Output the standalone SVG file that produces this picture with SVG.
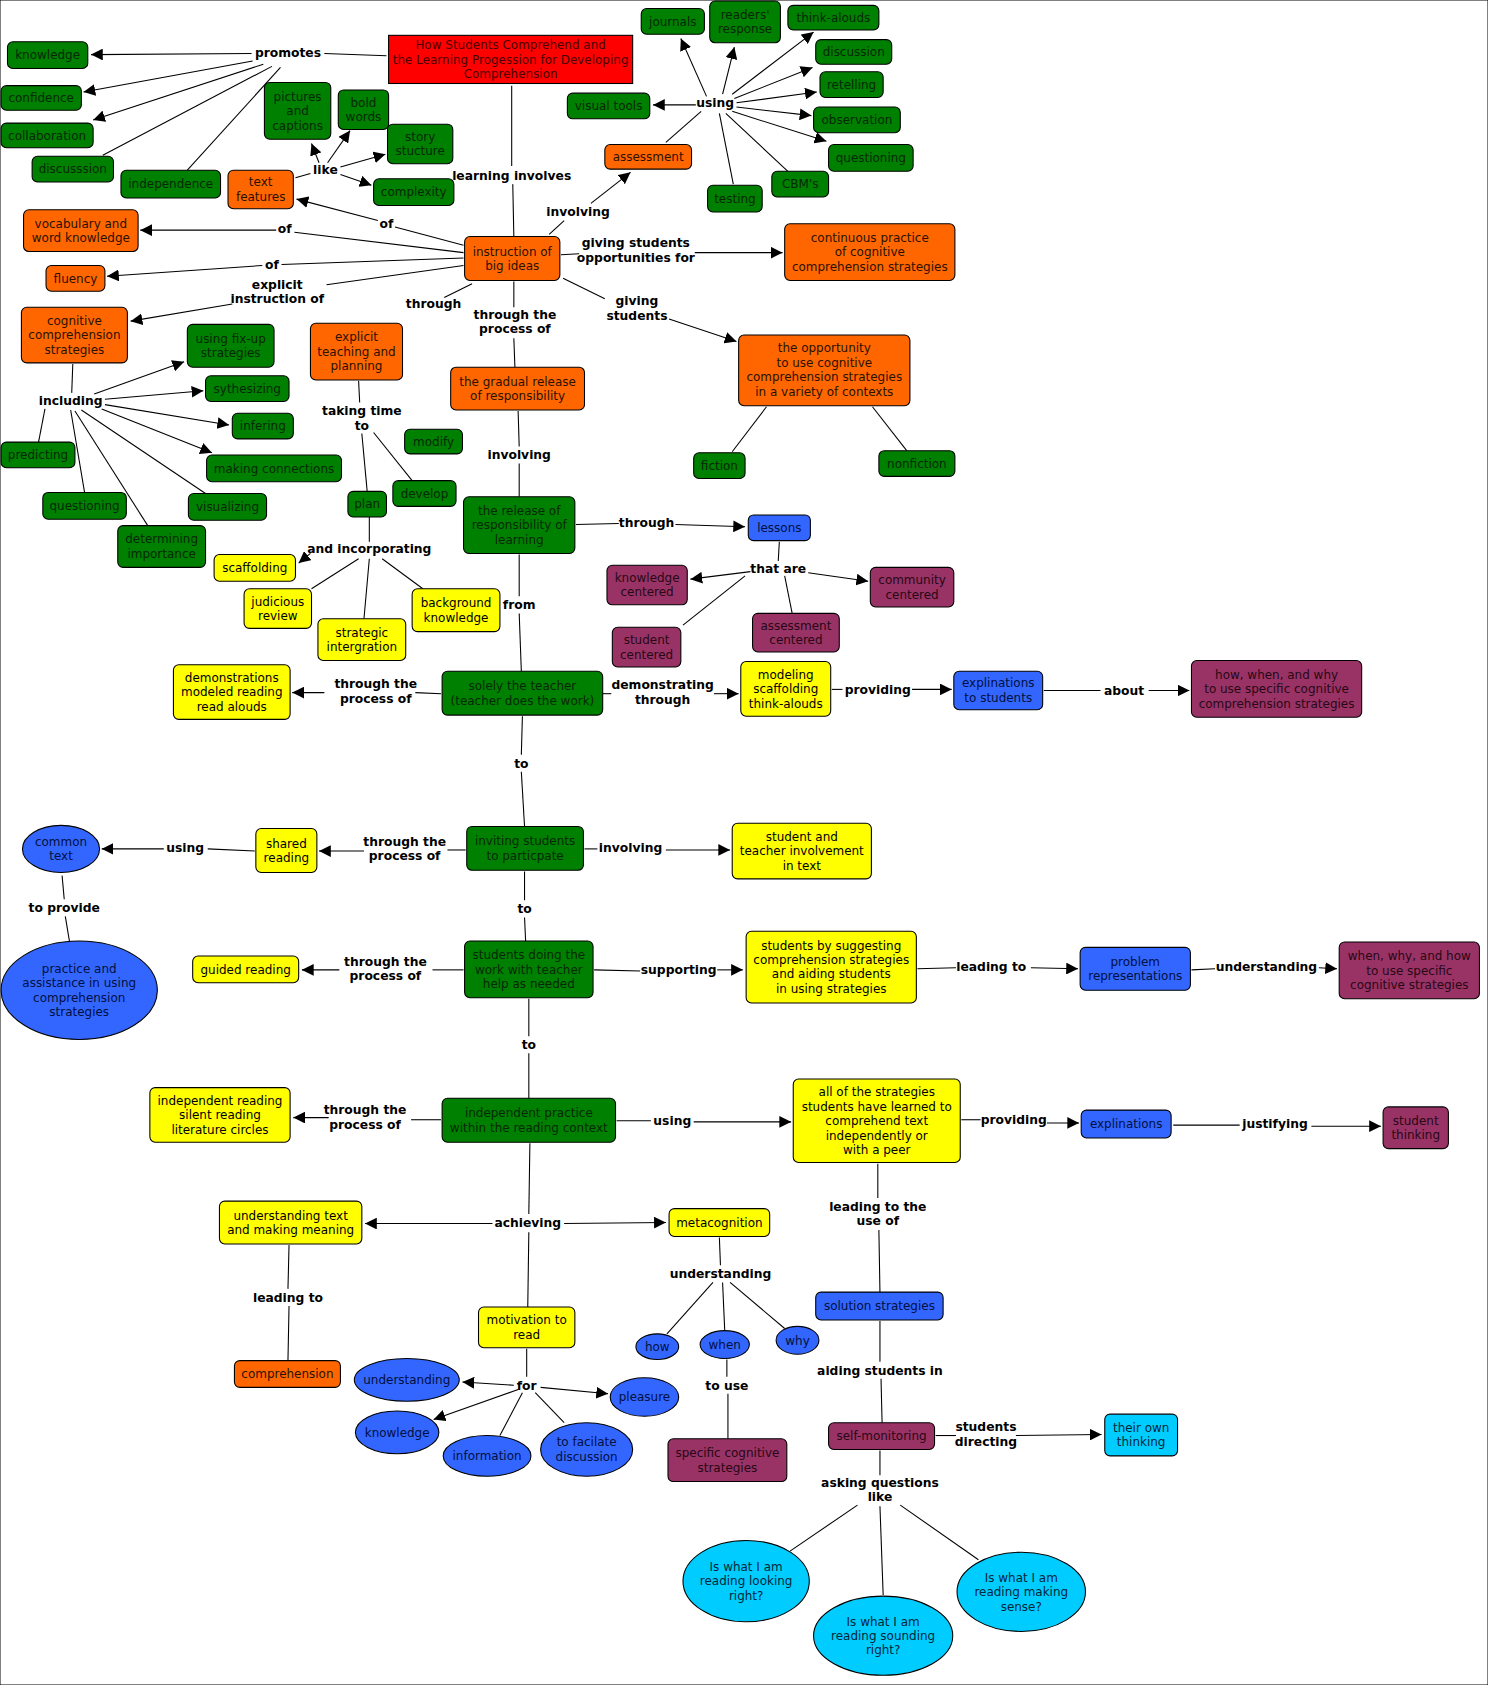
<svg xmlns="http://www.w3.org/2000/svg" width="1488" height="1685" viewBox="0 0 1488 1685">
<style>
text{font-family:"DejaVu Sans",Verdana,sans-serif;font-size:11.2px;text-anchor:middle}
.l{font-weight:bold;fill:#000;font-size:11.5px}
rect,ellipse{stroke:#000;stroke-width:1}
.g{fill:#008000}.o{fill:#ff6600}.y{fill:#ffff00}.b{fill:#3366ff}.p{fill:#993366}.c{fill:#00ccff}.r{fill:#ff0000}
.tg{fill:#062806}.to{fill:#2a1200}.ty{fill:#000}.tb{fill:#001040}.tp{fill:#280814}.tc{fill:#00263a}.tr{fill:#4a0000}
#conn line{stroke:#000;stroke-width:1}
#conn .a{marker-end:url(#ar)}
</style>
<defs><marker id="ar" viewBox="0 0 10 10" refX="10" refY="5" markerWidth="11" markerHeight="11" markerUnits="userSpaceOnUse" orient="auto"><path d="M0,0L10,5L0,10z" fill="#000"/></marker></defs>
<rect width="1488" height="1685" fill="#fff" stroke="none"/>
<g transform="scale(1.0705)">
<g id="conn">
<line x1="361" y1="52" x2="303" y2="50"/>
<line x1="235" y1="50" x2="85" y2="51" class="a"/>
<line x1="236" y1="57" x2="78" y2="86" class="a"/>
<line x1="246" y1="60" x2="87" y2="112" class="a"/>
<line x1="254" y1="62" x2="96" y2="145"/>
<line x1="262" y1="63" x2="175" y2="159"/>
<line x1="478" y1="80" x2="478" y2="155"/>
<line x1="479" y1="172" x2="480" y2="221"/>
<line x1="513" y1="219" x2="527" y2="206"/>
<line x1="552" y1="190" x2="589" y2="161" class="a"/>
<line x1="622" y1="133" x2="655" y2="104"/>
<line x1="660" y1="90" x2="636" y2="36" class="a"/>
<line x1="675" y1="88" x2="686" y2="44" class="a"/>
<line x1="684" y1="88" x2="760" y2="30" class="a"/>
<line x1="686" y1="92" x2="759" y2="63" class="a"/>
<line x1="688" y1="96" x2="763" y2="86" class="a"/>
<line x1="688" y1="100" x2="758" y2="108" class="a"/>
<line x1="684" y1="104" x2="772" y2="132" class="a"/>
<line x1="678" y1="106" x2="736" y2="160"/>
<line x1="672" y1="106" x2="685" y2="172"/>
<line x1="650" y1="98" x2="610" y2="98" class="a"/>
<line x1="433" y1="229" x2="369" y2="212"/>
<line x1="353" y1="206" x2="277" y2="186" class="a"/>
<line x1="276" y1="166" x2="290" y2="162"/>
<line x1="298" y1="152" x2="291" y2="134" class="a"/>
<line x1="306" y1="152" x2="327" y2="122" class="a"/>
<line x1="318" y1="156" x2="360" y2="144" class="a"/>
<line x1="318" y1="163" x2="347" y2="173" class="a"/>
<line x1="433" y1="236" x2="275" y2="217"/>
<line x1="258" y1="215" x2="131" y2="215" class="a"/>
<line x1="433" y1="241" x2="263" y2="247"/>
<line x1="245" y1="248" x2="100" y2="258" class="a"/>
<line x1="433" y1="248" x2="305" y2="266"/>
<line x1="217" y1="284" x2="122" y2="300" class="a"/>
<line x1="441" y1="265" x2="415" y2="278"/>
<line x1="480" y1="263" x2="480" y2="287"/>
<line x1="480" y1="316" x2="481" y2="343"/>
<line x1="524" y1="238" x2="541" y2="237"/>
<line x1="649" y1="236" x2="731" y2="236" class="a"/>
<line x1="526" y1="260" x2="565" y2="279"/>
<line x1="625" y1="298" x2="688" y2="319" class="a"/>
<line x1="716" y1="380" x2="684" y2="422"/>
<line x1="815" y1="380" x2="847" y2="421"/>
<line x1="68" y1="340" x2="67" y2="367"/>
<line x1="88" y1="368" x2="172" y2="338" class="a"/>
<line x1="98" y1="373" x2="190" y2="365" class="a"/>
<line x1="98" y1="378" x2="214" y2="397" class="a"/>
<line x1="95" y1="382" x2="198" y2="423" class="a"/>
<line x1="42" y1="382" x2="36" y2="413"/>
<line x1="66" y1="383" x2="79" y2="460"/>
<line x1="76" y1="383" x2="192" y2="461"/>
<line x1="70" y1="384" x2="138" y2="491"/>
<line x1="335" y1="356" x2="336" y2="376"/>
<line x1="349" y1="404" x2="385" y2="449"/>
<line x1="338" y1="405" x2="343" y2="459"/>
<line x1="345" y1="483" x2="345" y2="506"/>
<line x1="290" y1="517" x2="279" y2="526" class="a"/>
<line x1="335" y1="522" x2="291" y2="550"/>
<line x1="345" y1="522" x2="340" y2="578"/>
<line x1="357" y1="522" x2="395" y2="550"/>
<line x1="484" y1="384" x2="485" y2="417"/>
<line x1="485" y1="433" x2="485" y2="464"/>
<line x1="538" y1="490" x2="578" y2="489"/>
<line x1="631" y1="490" x2="696" y2="492" class="a"/>
<line x1="728" y1="506" x2="727" y2="524"/>
<line x1="701" y1="534" x2="645" y2="541" class="a"/>
<line x1="755" y1="535" x2="811" y2="543" class="a"/>
<line x1="696" y1="538" x2="638" y2="584"/>
<line x1="733" y1="538" x2="740" y2="573"/>
<line x1="485" y1="518" x2="485" y2="557"/>
<line x1="485" y1="573" x2="487" y2="627"/>
<line x1="412" y1="648" x2="388" y2="647"/>
<line x1="303" y1="647" x2="273" y2="647" class="a"/>
<line x1="563" y1="648" x2="571" y2="648"/>
<line x1="667" y1="648" x2="690" y2="648" class="a"/>
<line x1="777" y1="644" x2="787" y2="644"/>
<line x1="852" y1="644" x2="889" y2="644" class="a"/>
<line x1="975" y1="645" x2="1028" y2="645"/>
<line x1="1073" y1="645" x2="1111" y2="645" class="a"/>
<line x1="488" y1="669" x2="487" y2="705"/>
<line x1="487" y1="721" x2="490" y2="772"/>
<line x1="435" y1="794" x2="418" y2="794"/>
<line x1="340" y1="795" x2="298" y2="795" class="a"/>
<line x1="238" y1="795" x2="194" y2="793"/>
<line x1="153" y1="793" x2="95" y2="793" class="a"/>
<line x1="58" y1="818" x2="60" y2="840"/>
<line x1="61" y1="856" x2="65" y2="880"/>
<line x1="546" y1="793" x2="558" y2="793"/>
<line x1="622" y1="794" x2="682" y2="794" class="a"/>
<line x1="490" y1="814" x2="490" y2="841"/>
<line x1="490" y1="857" x2="491" y2="879"/>
<line x1="433" y1="906" x2="404" y2="906"/>
<line x1="317" y1="906" x2="282" y2="906" class="a"/>
<line x1="555" y1="906" x2="598" y2="907"/>
<line x1="670" y1="906" x2="694" y2="906" class="a"/>
<line x1="857" y1="905" x2="893" y2="904"/>
<line x1="963" y1="904" x2="1007" y2="905" class="a"/>
<line x1="1113" y1="906" x2="1135" y2="905"/>
<line x1="1232" y1="904" x2="1249" y2="905" class="a"/>
<line x1="494" y1="933" x2="494" y2="968"/>
<line x1="494" y1="984" x2="494" y2="1026"/>
<line x1="412" y1="1046" x2="384" y2="1046"/>
<line x1="307" y1="1044" x2="274" y2="1044" class="a"/>
<line x1="576" y1="1047" x2="608" y2="1047"/>
<line x1="648" y1="1048" x2="739" y2="1048" class="a"/>
<line x1="898" y1="1046" x2="916" y2="1046"/>
<line x1="978" y1="1049" x2="1008" y2="1049" class="a"/>
<line x1="1096" y1="1051" x2="1158" y2="1051"/>
<line x1="1225" y1="1052" x2="1290" y2="1052" class="a"/>
<line x1="495" y1="1068" x2="494" y2="1134"/>
<line x1="460" y1="1143" x2="341" y2="1143" class="a"/>
<line x1="527" y1="1143" x2="622" y2="1142" class="a"/>
<line x1="494" y1="1151" x2="493" y2="1221"/>
<line x1="820" y1="1087" x2="820" y2="1119"/>
<line x1="821" y1="1149" x2="822" y2="1207"/>
<line x1="270" y1="1163" x2="269" y2="1204"/>
<line x1="270" y1="1220" x2="269" y2="1271"/>
<line x1="672" y1="1156" x2="673" y2="1182"/>
<line x1="666" y1="1198" x2="623" y2="1246"/>
<line x1="675" y1="1198" x2="677" y2="1243"/>
<line x1="682" y1="1198" x2="733" y2="1241"/>
<line x1="679" y1="1270" x2="679" y2="1286"/>
<line x1="680" y1="1302" x2="680" y2="1344"/>
<line x1="492" y1="1260" x2="492" y2="1286"/>
<line x1="480" y1="1294" x2="432" y2="1291" class="a"/>
<line x1="505" y1="1296" x2="568" y2="1302" class="a"/>
<line x1="484" y1="1298" x2="405" y2="1326" class="a"/>
<line x1="488" y1="1301" x2="467" y2="1341"/>
<line x1="500" y1="1301" x2="527" y2="1329"/>
<line x1="822" y1="1234" x2="822" y2="1272"/>
<line x1="823" y1="1288" x2="824" y2="1329"/>
<line x1="874" y1="1341" x2="893" y2="1341"/>
<line x1="949" y1="1341" x2="1029" y2="1340" class="a"/>
<line x1="822" y1="1355" x2="822" y2="1378"/>
<line x1="801" y1="1406" x2="738" y2="1449"/>
<line x1="822" y1="1407" x2="825" y2="1490"/>
<line x1="841" y1="1406" x2="914" y2="1457"/>
</g>
<g id="labels">
<text class="l" x="269" y="53">promotes</text>
<text class="l" x="304" y="163">like</text>
<text class="l" x="478" y="168">learning involves</text>
<text class="l" x="540" y="202">involving</text>
<text class="l" x="668" y="100">using</text>
<text class="l" x="361" y="213">of</text>
<text class="l" x="266" y="218">of</text>
<text class="l" x="254" y="251">of</text>
<text class="l" x="259" y="270">explicit<tspan x="259" dy="13.5">instruction of</tspan></text>
<text class="l" x="594" y="231">giving students<tspan x="594" dy="13.5">opportunities for</tspan></text>
<text class="l" x="405" y="288">through</text>
<text class="l" x="481" y="298">through the<tspan x="481" dy="13.5">process of</tspan></text>
<text class="l" x="595" y="285">giving<tspan x="595" dy="13.5">students</tspan></text>
<text class="l" x="66" y="378">including</text>
<text class="l" x="338" y="388">taking time<tspan x="338" dy="13.5">to</tspan></text>
<text class="l" x="345" y="517">and incorporating</text>
<text class="l" x="485" y="429">involving</text>
<text class="l" x="604" y="492">through</text>
<text class="l" x="727" y="535">that are</text>
<text class="l" x="485" y="569">from</text>
<text class="l" x="351" y="643">through the<tspan x="351" dy="13.5">process of</tspan></text>
<text class="l" x="619" y="644">demonstrating<tspan x="619" dy="13.5">through</tspan></text>
<text class="l" x="820" y="648">providing</text>
<text class="l" x="1050" y="649">about</text>
<text class="l" x="487" y="717">to</text>
<text class="l" x="173" y="796">using</text>
<text class="l" x="378" y="790">through the<tspan x="378" dy="13.5">process of</tspan></text>
<text class="l" x="589" y="796">involving</text>
<text class="l" x="60" y="852">to provide</text>
<text class="l" x="490" y="853">to</text>
<text class="l" x="360" y="902">through the<tspan x="360" dy="13.5">process of</tspan></text>
<text class="l" x="634" y="910">supporting</text>
<text class="l" x="926" y="907">leading to</text>
<text class="l" x="1183" y="907">understanding</text>
<text class="l" x="494" y="980">to</text>
<text class="l" x="341" y="1041">through the<tspan x="341" dy="13.5">process of</tspan></text>
<text class="l" x="628" y="1051">using</text>
<text class="l" x="947" y="1050">providing</text>
<text class="l" x="1191" y="1054">justifying</text>
<text class="l" x="493" y="1146">achieving</text>
<text class="l" x="820" y="1131">leading to the<tspan x="820" dy="13.5">use of</tspan></text>
<text class="l" x="673" y="1194">understanding</text>
<text class="l" x="269" y="1216">leading to</text>
<text class="l" x="492" y="1298">for</text>
<text class="l" x="679" y="1298">to use</text>
<text class="l" x="822" y="1284">aiding students in</text>
<text class="l" x="921" y="1337">students<tspan x="921" dy="13.5">directing</tspan></text>
<text class="l" x="822" y="1389">asking questions<tspan x="822" dy="13.5">like</tspan></text>
</g>
<g id="n-title"><rect class="r" x="363" y="33" width="228" height="45"/><text class="tr" x="477" y="46">How Students Comprehend and<tspan x="477" dy="13.5">the Learning Progession for Developing</tspan><tspan x="477" dy="13.5">Comprehension</tspan></text></g>
<g id="n-knowledge"><rect class="g" x="7" y="39" width="75" height="25" rx="5"/><text class="tg" x="44.5" y="55.5">knowledge</text></g>
<g id="n-confidence"><rect class="g" x="1" y="80" width="75" height="23" rx="5"/><text class="tg" x="38.5" y="95.5">confidence</text></g>
<g id="n-collab"><rect class="g" x="1" y="115" width="86" height="23" rx="5"/><text class="tg" x="44" y="130.5">collaboration</text></g>
<g id="n-discusssion"><rect class="g" x="30" y="146" width="76" height="24" rx="5"/><text class="tg" x="68" y="162">discusssion</text></g>
<g id="n-independence"><rect class="g" x="113" y="159" width="93" height="26" rx="5"/><text class="tg" x="159.5" y="176">independence</text></g>
<g id="n-pictures"><rect class="g" x="247" y="77" width="62" height="53" rx="5"/><text class="tg" x="278" y="94">pictures<tspan x="278" dy="13.5">and</tspan><tspan x="278" dy="13.5">captions</tspan></text></g>
<g id="n-bold"><rect class="g" x="316" y="84" width="47" height="37" rx="5"/><text class="tg" x="339.5" y="99.7">bold<tspan x="339.5" dy="13.5">words</tspan></text></g>
<g id="n-story"><rect class="g" x="362" y="116" width="61" height="37" rx="5"/><text class="tg" x="392.5" y="131.7">story<tspan x="392.5" dy="13.5">stucture</tspan></text></g>
<g id="n-complexity"><rect class="g" x="349" y="167" width="75" height="25" rx="5"/><text class="tg" x="386.5" y="183.5">complexity</text></g>
<g id="n-textfeat"><rect class="o" x="213" y="159" width="61" height="36" rx="5"/><text class="to" x="243.5" y="174.2">text<tspan x="243.5" dy="13.5">features</tspan></text></g>
<g id="n-vocab"><rect class="o" x="22" y="196" width="107" height="39" rx="5"/><text class="to" x="75.5" y="212.7">vocabulary and<tspan x="75.5" dy="13.5">word knowledge</tspan></text></g>
<g id="n-fluency"><rect class="o" x="43" y="248" width="55" height="24" rx="5"/><text class="to" x="70.5" y="264">fluency</text></g>
<g id="n-instr"><rect class="o" x="434" y="221" width="89" height="41" rx="5"/><text class="to" x="478.5" y="238.7">instruction of<tspan x="478.5" dy="13.5">big ideas</tspan></text></g>
<g id="n-cogstrat"><rect class="o" x="20" y="287" width="99" height="52" rx="5"/><text class="to" x="69.5" y="303.5">cognitive<tspan x="69.5" dy="13.5">comprehension</tspan><tspan x="69.5" dy="13.5">strategies</tspan></text></g>
<g id="n-fixup"><rect class="g" x="175" y="303" width="81" height="40" rx="5"/><text class="tg" x="215.5" y="320.2">using fix-up<tspan x="215.5" dy="13.5">strategies</tspan></text></g>
<g id="n-synth"><rect class="g" x="192" y="351" width="78" height="24" rx="5"/><text class="tg" x="231" y="367">sythesizing</text></g>
<g id="n-infer"><rect class="g" x="217" y="386" width="57" height="24" rx="5"/><text class="tg" x="245.5" y="402">infering</text></g>
<g id="n-predict"><rect class="g" x="1" y="413" width="69" height="24" rx="5"/><text class="tg" x="35.5" y="429">predicting</text></g>
<g id="n-making"><rect class="g" x="193" y="425" width="126" height="25" rx="5"/><text class="tg" x="256" y="441.5">making connections</text></g>
<g id="n-question1"><rect class="g" x="40" y="460" width="78" height="25" rx="5"/><text class="tg" x="79" y="476.5">questioning</text></g>
<g id="n-visual"><rect class="g" x="176" y="461" width="73" height="25" rx="5"/><text class="tg" x="212.5" y="477.5">visualizing</text></g>
<g id="n-determ"><rect class="g" x="110" y="491" width="82" height="39" rx="5"/><text class="tg" x="151" y="507.7">determining<tspan x="151" dy="13.5">importance</tspan></text></g>
<g id="n-explteach"><rect class="o" x="290" y="302" width="86" height="53" rx="5"/><text class="to" x="333" y="319">explicit<tspan x="333" dy="13.5">teaching and</tspan><tspan x="333" dy="13.5">planning</tspan></text></g>
<g id="n-modify"><rect class="g" x="378" y="401" width="54" height="23" rx="5"/><text class="tg" x="405" y="416.5">modify</text></g>
<g id="n-develop"><rect class="g" x="367" y="449" width="59" height="24" rx="5"/><text class="tg" x="396.5" y="465">develop</text></g>
<g id="n-plan"><rect class="g" x="325" y="459" width="36" height="24" rx="5"/><text class="tg" x="343" y="475">plan</text></g>
<g id="n-scaff"><rect class="y" x="200" y="518" width="76" height="25" rx="5"/><text class="ty" x="238" y="534.5">scaffolding</text></g>
<g id="n-judic"><rect class="y" x="228" y="550" width="63" height="37" rx="5"/><text class="ty" x="259.5" y="565.7">judicious<tspan x="259.5" dy="13.5">review</tspan></text></g>
<g id="n-strat"><rect class="y" x="297" y="578" width="82" height="39" rx="5"/><text class="ty" x="338" y="594.7">strategic<tspan x="338" dy="13.5">intergration</tspan></text></g>
<g id="n-backg"><rect class="y" x="385" y="550" width="82" height="40" rx="5"/><text class="ty" x="426" y="567.2">background<tspan x="426" dy="13.5">knowledge</tspan></text></g>
<g id="n-gradual"><rect class="o" x="421" y="343" width="125" height="40" rx="5"/><text class="to" x="483.5" y="360.2">the gradual release<tspan x="483.5" dy="13.5">of responsibility</tspan></text></g>
<g id="n-release"><rect class="g" x="433" y="464" width="104" height="53" rx="5"/><text class="tg" x="485" y="481">the release of<tspan x="485" dy="13.5">responsibility of</tspan><tspan x="485" dy="13.5">learning</tspan></text></g>
<g id="n-lessons"><rect class="b" x="699" y="481" width="58" height="24" rx="5"/><text class="tb" x="728" y="497">lessons</text></g>
<g id="n-kc"><rect class="p" x="567" y="528" width="75" height="37" rx="5"/><text class="tp" x="604.5" y="543.7">knowledge<tspan x="604.5" dy="13.5">centered</tspan></text></g>
<g id="n-cc"><rect class="p" x="813" y="530" width="78" height="37" rx="5"/><text class="tp" x="852" y="545.7">community<tspan x="852" dy="13.5">centered</tspan></text></g>
<g id="n-sc"><rect class="p" x="572" y="586" width="64" height="37" rx="5"/><text class="tp" x="604" y="601.7">student<tspan x="604" dy="13.5">centered</tspan></text></g>
<g id="n-ac"><rect class="p" x="703" y="573" width="81" height="36" rx="5"/><text class="tp" x="743.5" y="588.2">assessment<tspan x="743.5" dy="13.5">centered</tspan></text></g>
<g id="n-solely"><rect class="g" x="413" y="627" width="150" height="41" rx="5"/><text class="tg" x="488" y="644.7">solely the teacher<tspan x="488" dy="13.5">(teacher does the work)</tspan></text></g>
<g id="n-demos"><rect class="y" x="162" y="621" width="109" height="51" rx="5"/><text class="ty" x="216.5" y="637">demonstrations<tspan x="216.5" dy="13.5">modeled reading</tspan><tspan x="216.5" dy="13.5">read alouds</tspan></text></g>
<g id="n-modeling"><rect class="y" x="692" y="618" width="84" height="51" rx="5"/><text class="ty" x="734" y="634">modeling<tspan x="734" dy="13.5">scaffolding</tspan><tspan x="734" dy="13.5">think-alouds</tspan></text></g>
<g id="n-expl1"><rect class="b" x="891" y="627" width="83" height="36" rx="5"/><text class="tb" x="932.5" y="642.2">explinations<tspan x="932.5" dy="13.5">to students</tspan></text></g>
<g id="n-hww"><rect class="p" x="1113" y="617" width="159" height="53" rx="5"/><text class="tp" x="1192.5" y="634">how, when, and why<tspan x="1192.5" dy="13.5">to use specific cognitive</tspan><tspan x="1192.5" dy="13.5">comprehension strategies</tspan></text></g>
<g id="n-inviting"><rect class="g" x="436" y="772" width="109" height="41" rx="5"/><text class="tg" x="490.5" y="789.7">inviting students<tspan x="490.5" dy="13.5">to particpate</tspan></text></g>
<g id="n-shared"><rect class="y" x="239" y="774" width="57" height="41" rx="5"/><text class="ty" x="267.5" y="791.7">shared<tspan x="267.5" dy="13.5">reading</tspan></text></g>
<g id="n-common"><ellipse class="b" cx="57" cy="793" rx="36" ry="22"/><text class="tb" x="57" y="790.2">common<tspan x="57" dy="13.5">text</tspan></text></g>
<g id="n-stinv"><rect class="y" x="684" y="769" width="130" height="52" rx="5"/><text class="ty" x="749" y="785.5">student and<tspan x="749" dy="13.5">teacher involvement</tspan><tspan x="749" dy="13.5">in text</tspan></text></g>
<g id="n-practice"><ellipse class="b" cx="74" cy="925" rx="73" ry="46"/><text class="tb" x="74" y="908.7">practice and<tspan x="74" dy="13.5">assistance in using</tspan><tspan x="74" dy="13.5">comprehension</tspan><tspan x="74" dy="13.5">strategies</tspan></text></g>
<g id="n-doing"><rect class="g" x="434" y="879" width="120" height="53" rx="5"/><text class="tg" x="494" y="896">students doing the<tspan x="494" dy="13.5">work with teacher</tspan><tspan x="494" dy="13.5">help as needed</tspan></text></g>
<g id="n-guided"><rect class="y" x="180" y="893" width="99" height="25" rx="5"/><text class="ty" x="229.5" y="909.5">guided reading</text></g>
<g id="n-suggest"><rect class="y" x="697" y="870" width="159" height="67" rx="5"/><text class="ty" x="776.5" y="887">students by suggesting<tspan x="776.5" dy="13.5">comprehension strategies</tspan><tspan x="776.5" dy="13.5">and aiding students</tspan><tspan x="776.5" dy="13.5">in using strategies</tspan></text></g>
<g id="n-problem"><rect class="b" x="1009" y="885" width="103" height="40" rx="5"/><text class="tb" x="1060.5" y="902.2">problem<tspan x="1060.5" dy="13.5">representations</tspan></text></g>
<g id="n-wwh"><rect class="p" x="1251" y="880" width="131" height="53" rx="5"/><text class="tp" x="1316.5" y="897">when, why, and how<tspan x="1316.5" dy="13.5">to use specific</tspan><tspan x="1316.5" dy="13.5">cognitive strategies</tspan></text></g>
<g id="n-indep"><rect class="g" x="413" y="1026" width="162" height="41" rx="5"/><text class="tg" x="494" y="1043.7">independent practice<tspan x="494" dy="13.5">within the reading context</tspan></text></g>
<g id="n-indread"><rect class="y" x="140" y="1016" width="131" height="51" rx="5"/><text class="ty" x="205.5" y="1032">independent reading<tspan x="205.5" dy="13.5">silent reading</tspan><tspan x="205.5" dy="13.5">literature circles</tspan></text></g>
<g id="n-allof"><rect class="y" x="741" y="1008" width="156" height="78" rx="5"/><text class="ty" x="819" y="1024">all of the strategies<tspan x="819" dy="13.5">students have learned to</tspan><tspan x="819" dy="13.5">comprehend text</tspan><tspan x="819" dy="13.5">independently or</tspan><tspan x="819" dy="13.5">with a peer</tspan></text></g>
<g id="n-expl2"><rect class="b" x="1010" y="1037" width="84" height="26" rx="5"/><text class="tb" x="1052" y="1054">explinations</text></g>
<g id="n-sthink"><rect class="p" x="1292" y="1034" width="61" height="39" rx="5"/><text class="tp" x="1322.5" y="1050.7">student<tspan x="1322.5" dy="13.5">thinking</tspan></text></g>
<g id="n-undtext"><rect class="y" x="205" y="1122" width="133" height="40" rx="5"/><text class="ty" x="271.5" y="1139.2">understanding text<tspan x="271.5" dy="13.5">and making meaning</tspan></text></g>
<g id="n-meta"><rect class="y" x="625" y="1129" width="94" height="26" rx="5"/><text class="ty" x="672" y="1146">metacognition</text></g>
<g id="n-compr"><rect class="o" x="219" y="1271" width="99" height="25" rx="5"/><text class="to" x="268.5" y="1287.5">comprehension</text></g>
<g id="n-solution"><rect class="b" x="762" y="1207" width="119" height="26" rx="5"/><text class="tb" x="821.5" y="1224">solution strategies</text></g>
<g id="n-motiv"><rect class="y" x="447" y="1221" width="90" height="38" rx="5"/><text class="ty" x="492" y="1237.2">motivation to<tspan x="492" dy="13.5">read</tspan></text></g>
<g id="n-how"><ellipse class="b" cx="614" cy="1258" rx="20" ry="12"/><text class="tb" x="614" y="1262">how</text></g>
<g id="n-when"><ellipse class="b" cx="677" cy="1256" rx="23" ry="13"/><text class="tb" x="677" y="1260">when</text></g>
<g id="n-why"><ellipse class="b" cx="745" cy="1252" rx="20" ry="13"/><text class="tb" x="745" y="1256">why</text></g>
<g id="n-und2"><ellipse class="b" cx="380" cy="1289" rx="49" ry="20"/><text class="tb" x="380" y="1293">understanding</text></g>
<g id="n-pleasure"><ellipse class="b" cx="602" cy="1305" rx="32" ry="18"/><text class="tb" x="602" y="1309">pleasure</text></g>
<g id="n-know2"><ellipse class="b" cx="371" cy="1338" rx="39" ry="20"/><text class="tb" x="371" y="1342">knowledge</text></g>
<g id="n-info"><ellipse class="b" cx="455" cy="1360" rx="41" ry="19"/><text class="tb" x="455" y="1364">information</text></g>
<g id="n-facil"><ellipse class="b" cx="548" cy="1354" rx="43" ry="25"/><text class="tb" x="548" y="1351.2">to facilate<tspan x="548" dy="13.5">discussion</tspan></text></g>
<g id="n-specific"><rect class="p" x="624" y="1344" width="111" height="40" rx="5"/><text class="tp" x="679.5" y="1361.2">specific cognitive<tspan x="679.5" dy="13.5">strategies</tspan></text></g>
<g id="n-selfmon"><rect class="p" x="774" y="1329" width="99" height="25" rx="5"/><text class="tp" x="823.5" y="1345.5">self-monitoring</text></g>
<g id="n-ownthink"><rect class="c" x="1032" y="1321" width="68" height="39" rx="5"/><text class="tc" x="1066" y="1337.7">their own<tspan x="1066" dy="13.5">thinking</tspan></text></g>
<g id="n-q1"><ellipse class="c" cx="697" cy="1477" rx="59" ry="38"/><text class="tc" x="697" y="1467.5">Is what I am<tspan x="697" dy="13.5">reading looking</tspan><tspan x="697" dy="13.5">right?</tspan></text></g>
<g id="n-q2"><ellipse class="c" cx="825" cy="1528" rx="65" ry="37"/><text class="tc" x="825" y="1518.5">Is what I am<tspan x="825" dy="13.5">reading sounding</tspan><tspan x="825" dy="13.5">right?</tspan></text></g>
<g id="n-q3"><ellipse class="c" cx="954" cy="1487" rx="60" ry="37"/><text class="tc" x="954" y="1477.5">Is what I am<tspan x="954" dy="13.5">reading making</tspan><tspan x="954" dy="13.5">sense?</tspan></text></g>
<g id="n-journals"><rect class="g" x="599" y="8" width="59" height="24" rx="5"/><text class="tg" x="628.5" y="24">journals</text></g>
<g id="n-readers"><rect class="g" x="663" y="1" width="66" height="39" rx="5"/><text class="tg" x="696" y="17.7">readers'<tspan x="696" dy="13.5">response</tspan></text></g>
<g id="n-think"><rect class="g" x="736" y="5" width="85" height="23" rx="5"/><text class="tg" x="778.5" y="20.5">think-alouds</text></g>
<g id="n-discussion"><rect class="g" x="762" y="37" width="71" height="23" rx="5"/><text class="tg" x="797.5" y="52.5">discussion</text></g>
<g id="n-retell"><rect class="g" x="766" y="67" width="59" height="24" rx="5"/><text class="tg" x="795.5" y="83">retelling</text></g>
<g id="n-observ"><rect class="g" x="760" y="100" width="81" height="24" rx="5"/><text class="tg" x="800.5" y="116">observation</text></g>
<g id="n-question2"><rect class="g" x="774" y="135" width="79" height="25" rx="5"/><text class="tg" x="813.5" y="151.5">questioning</text></g>
<g id="n-cbm"><rect class="g" x="721" y="160" width="53" height="24" rx="5"/><text class="tg" x="747.5" y="176">CBM's</text></g>
<g id="n-testing"><rect class="g" x="661" y="173" width="51" height="25" rx="5"/><text class="tg" x="686.5" y="189.5">testing</text></g>
<g id="n-vistools"><rect class="g" x="530" y="87" width="77" height="24" rx="5"/><text class="tg" x="568.5" y="103">visual tools</text></g>
<g id="n-assess"><rect class="o" x="565" y="135" width="81" height="23" rx="5"/><text class="to" x="605.5" y="150.5">assessment</text></g>
<g id="n-contin"><rect class="o" x="733" y="209" width="159" height="53" rx="5"/><text class="to" x="812.5" y="226">continuous practice<tspan x="812.5" dy="13.5">of cognitive</tspan><tspan x="812.5" dy="13.5">comprehension strategies</tspan></text></g>
<g id="n-opp"><rect class="o" x="690" y="313" width="160" height="66" rx="5"/><text class="to" x="770" y="329">the opportunity<tspan x="770" dy="13.5">to use cognitive</tspan><tspan x="770" dy="13.5">comprehension strategies</tspan><tspan x="770" dy="13.5">in a variety of contexts</tspan></text></g>
<g id="n-fiction"><rect class="g" x="648" y="423" width="48" height="24" rx="5"/><text class="tg" x="672" y="439">fiction</text></g>
<g id="n-nonfic"><rect class="g" x="821" y="421" width="71" height="24" rx="5"/><text class="tg" x="856.5" y="437">nonfiction</text></g>
</g>
</svg>
